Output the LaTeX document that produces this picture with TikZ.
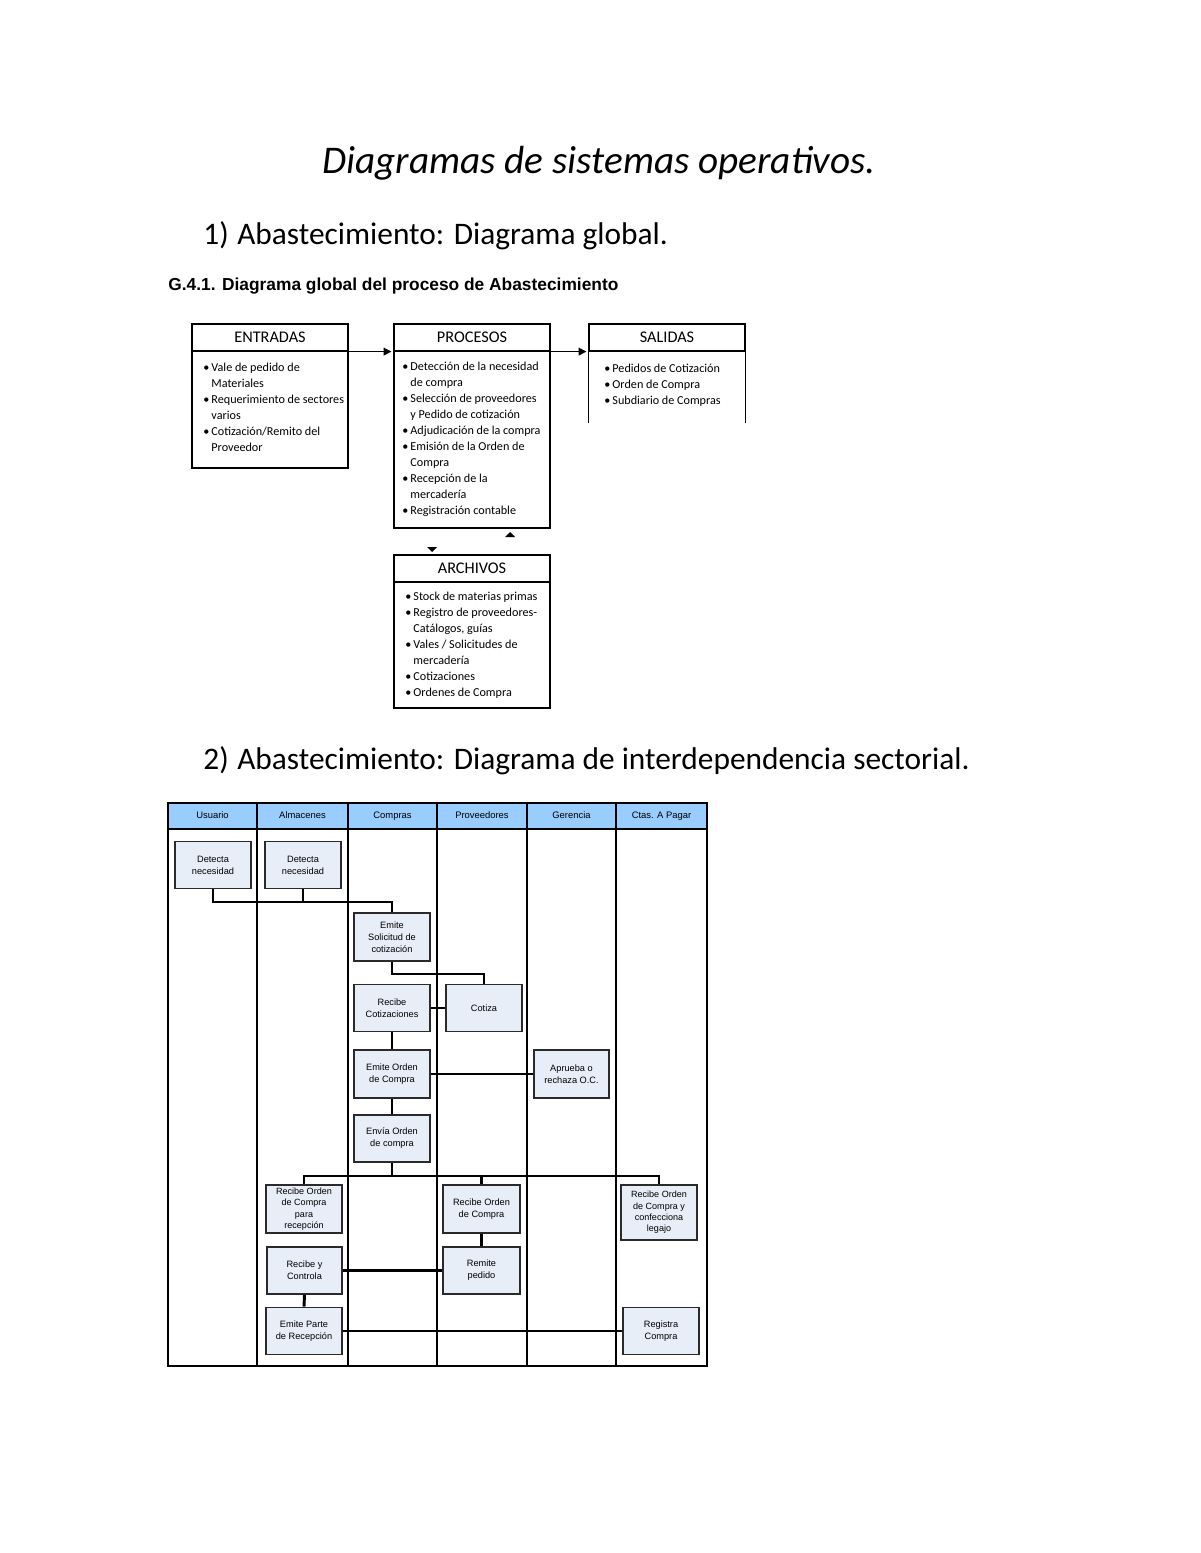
\documentclass[tikz,border=0pt]{standalone}
\usepackage{fontspec}
\setmainfont{Carlito}
\newfontfamily\arialf{Liberation Sans}
\usetikzlibrary{arrows.meta}
\definecolor{hdrblue}{HTML}{99CCFF}
\definecolor{boxfill}{HTML}{E8EEF7}
\definecolor{boxline}{HTML}{2A2A2A}
\newcommand\pxu{0.51pt}
\newcommand\bul{\makebox[4.1pt][l]{•}}
\newcommand\ind{\hspace*{4.1pt}}
\begin{document}
\begin{tikzpicture}[x=0.51pt,y=-0.51pt,
  titlestyle/.style={font=\fontsize{20}{24}\selectfont\itshape, inner sep=0},
  itemstyle/.style={font=\fontsize{16}{19}\selectfont, inner sep=0, anchor=west},
  gheading/.style={font=\arialf\bfseries\fontsize{8.85}{10}\selectfont, inner sep=0, anchor=west},
  ghdr/.style={draw, line width=0.6pt, minimum width=156*\pxu, minimum height=27*\pxu, inner sep=0, font=\fontsize{8.3}{9}\selectfont},
  gbody/.style={draw, line width=0.6pt, minimum width=156*\pxu, inner sep=0},
  glist/.style={anchor=north west, align=left, inner sep=0, font=\fontsize{6.2}{8.16}\selectfont},
  garrow/.style={line width=0.6pt, -{Triangle[length=4pt,width=4pt]}},
  lanehdr/.style={draw, line width=0.6pt, fill=hdrblue, minimum height=26*\pxu, inner sep=0, text height=3.5pt, text depth=1pt, font=\arialf\fontsize{4.8}{6}\selectfont},
  lanebody/.style={draw, line width=0.6pt, minimum height=537*\pxu, inner sep=0},
  sbox/.style={draw=boxline, fill=boxfill, line width=0.9pt, align=center, minimum width=76*\pxu, minimum height=47*\pxu, inner sep=1pt, font=\arialf\fontsize{4.7}{6.1}\selectfont},
  tightbox/.style={inner sep=0pt, font=\arialf\fontsize{4.6}{5.8}\selectfont},
  conn/.style={line width=1.5pt, black}
]
\useasboundingbox (0,0) rectangle (1200,1553);
\fill[white] (0,0) rectangle (1200,1553);

% Titles
\node[titlestyle] (title) at (599,163) {Diagramas de sistemas operativos.};
\node[itemstyle] (item1) at (203,236) {\makebox[17.3pt][l]{1)}Abastecimiento: Diagrama global.};
\node[gheading] (gh) at (168,286) {G.4.1. Diagrama global del proceso de Abastecimiento};
\node[itemstyle] (item2) at (203,761) {\makebox[17.3pt][l]{2)}Abastecimiento: Diagrama de interdependencia sectorial.};

% Global diagram
\node[ghdr] (entH) at (270,337.5) {ENTRADAS};
\node[gbody, minimum height=117*\pxu] (entB) at (270,409.5) {};
\node[ghdr] (proH) at (472,337.5) {PROCESOS};
\node[gbody, minimum height=177*\pxu] (proB) at (472,439.5) {};
\node[ghdr] (salH) at (667,337.5) {SALIDAS};
\draw[line width=0.6pt] (salH.south west) -- ++(0,71);
\draw[line width=0.6pt] (salH.south east) -- ++(0,71);
\node[ghdr] (arcH) at (472,568.5) {ARCHIVOS};
\node[gbody, minimum height=126*\pxu] (arcB) at (472,645) {};

\draw[garrow, shorten >=2*\pxu] (entH.south east) -- (proH.south west);
\draw[garrow, shorten >=2*\pxu] (proH.south east) -- (salH.south west);

\fill (427,547) -- (437,547) -- (432,552) -- cycle;
\fill (505,537) -- (515,537) -- (510,532) -- cycle;

\node[glist] (entL) at (203,363) {\bul Vale de pedido de\\ \ind Materiales\\ \bul Requerimiento de sectores\\ \ind varios\\ \bul Cotización/Remito del\\ \ind Proveedor};
\node[glist] (proL) at (402,362) {\bul Detección de la necesidad\\ \ind de compra\\ \bul Selección de proveedores\\ \ind y Pedido de cotización\\ \bul Adjudicación de la compra\\ \bul Emisión de la Orden de\\ \ind Compra\\ \bul Recepción de la\\ \ind mercadería\\ \bul Registración contable};
\node[glist] (salL) at (604,364) {\bul Pedidos de Cotización\\ \bul Orden de Compra\\ \bul Subdiario de Compras};
\node[glist] (arcL) at (405,592) {\bul Stock de materias primas\\ \bul Registro de proveedores-\\ \ind Catálogos, guías\\ \bul Vales / Solicitudes de\\ \ind mercadería\\ \bul Cotizaciones\\ \bul Ordenes de Compra};

% Swimlane diagram
\node[lanebody, minimum width=89*\pxu] (b1) at (212.5,1097.5) {};
\node[lanebody, minimum width=91*\pxu] (b2) at (302.5,1097.5) {};
\node[lanebody, minimum width=89*\pxu] (b3) at (392.5,1097.5) {};
\node[lanebody, minimum width=90*\pxu] (b4) at (482,1097.5) {};
\node[lanebody, minimum width=89*\pxu] (b5) at (571.5,1097.5) {};
\node[lanebody, minimum width=91*\pxu] (b6) at (661.5,1097.5) {};
\node[lanehdr, minimum width=89*\pxu] (h1) at (212.5,816) {Usuario};
\node[lanehdr, minimum width=91*\pxu] (h2) at (302.5,816) {Almacenes};
\node[lanehdr, minimum width=89*\pxu] (h3) at (392.5,816) {Compras};
\node[lanehdr, minimum width=90*\pxu] (h4) at (482,816) {Proveedores};
\node[lanehdr, minimum width=89*\pxu] (h5) at (571.5,816) {Gerencia};
\node[lanehdr, minimum width=91*\pxu] (h6) at (661.5,816) {Ctas. A Pagar};

\coordinate (y1) at (0,902);
\coordinate (y2) at (0,974);
\coordinate (y3) at (0,1176);

\node[sbox] (det1) at (213,865) {Detecta\\necesidad};
\node[sbox] (det2) at (303,865) {Detecta\\necesidad};
\node[sbox, minimum height=48*\pxu] (emsol) at (392,937) {Emite\\Solicitud de\\cotización};
\node[sbox] (rcot) at (392,1008) {Recibe\\Cotizaciones};
\node[sbox] (cot) at (484,1008) {Cotiza};
\node[sbox, minimum height=48*\pxu] (emoc) at (392,1074) {Emite Orden\\de Compra};
\node[sbox, minimum width=75*\pxu, minimum height=48*\pxu] (aprueba) at (571.5,1074) {Aprueba o\\rechaza O.C.};
\node[sbox] (envoc) at (392,1138.5) {Envía Orden\\de compra};
\node[sbox, tightbox, minimum height=48*\pxu] (rocr) at (304,1209) {Recibe Orden\\de Compra\\para\\recepción};
\node[sbox, minimum width=77*\pxu, minimum height=48*\pxu] (rocp) at (481.5,1209) {Recibe Orden\\de Compra};
\node[sbox, tightbox, minimum height=55*\pxu] (rocl) at (659,1212.5) {Recibe Orden\\de Compra y\\confecciona\\legajo};
\node[sbox, minimum width=75*\pxu] (ryc) at (304.5,1270.5) {Recibe y\\Controla};
\node[sbox, minimum width=77*\pxu] (remite) at (481.5,1270.5) {Remite\\pedido};
\node[sbox] (emparte) at (304,1331) {Emite Parte\\de Recepción};
\node[sbox] (registra) at (661,1331) {Registra\\Compra};

\draw[conn] (det1.south) -- (det1.south |- y1) -| (emsol.north);
\draw[conn] (det2.south) -- (det2.south |- y1);
\draw[conn] (emsol.south) -- (emsol.south |- y2) -| (cot.north);
\draw[conn] (rcot.east) -- (cot.west);
\draw[conn] (rcot.south) -- (emoc.north);
\draw[conn] (emoc.east) -- (aprueba.west);
\draw[conn] (emoc.south) -- (envoc.north);
\draw[conn] (envoc.south) -- (envoc.south |- y3);
\draw[conn] (rocr.north) -- (rocr.north |- y3) -- (rocl.north |- y3) -- (rocl.north);
\draw[conn] (rocp.north) -- (rocp.north |- y3);
\draw[conn] (rocp.south) -- (remite.north);
\draw[conn] (ryc.east) -- (remite.west);
\draw[conn] (ryc.south) -- (emparte.north);
\draw[conn] (emparte.east) -- (registra.west);
\end{tikzpicture}
\end{document}
